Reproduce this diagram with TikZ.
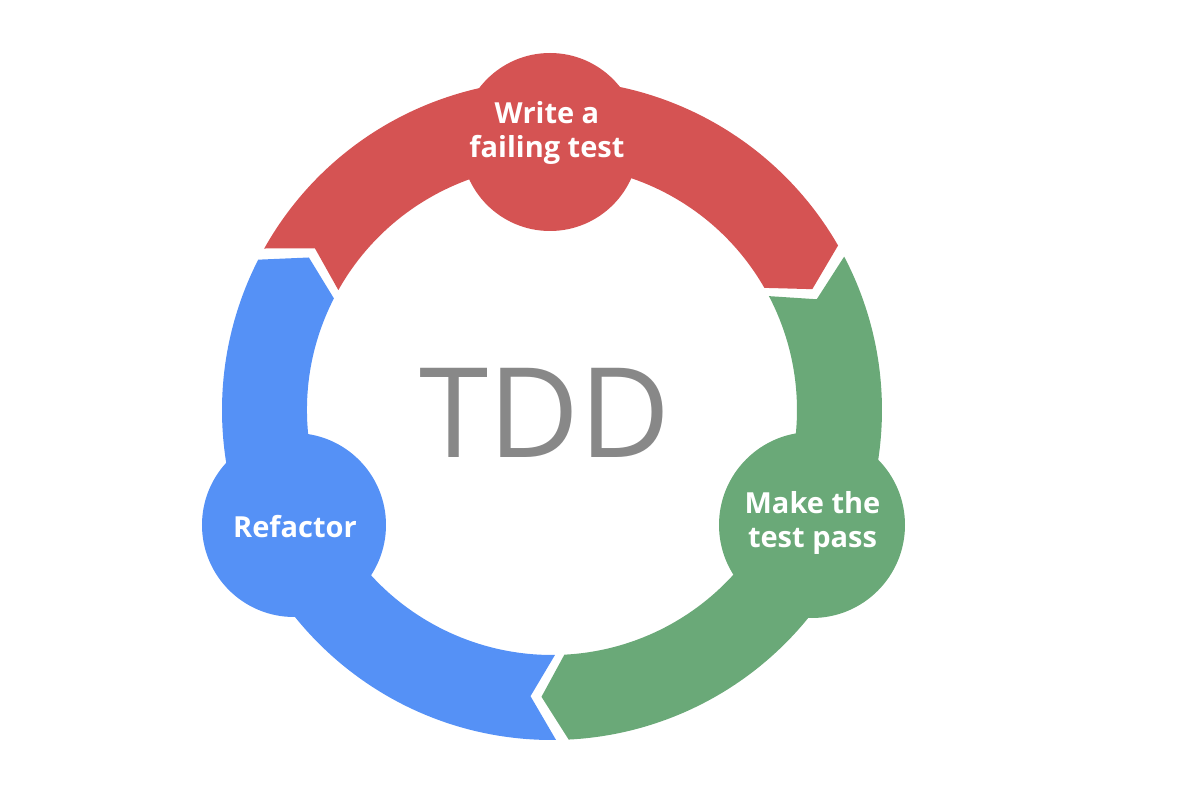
\documentclass[tikz,border=0pt]{standalone}
\usepackage{fontspec}
\setmainfont{Open Sans}
\definecolor{tddred}{RGB}{213,83,83}
\definecolor{tddgreen}{RGB}{106,169,120}
\definecolor{tddblue}{RGB}{85,145,246}
\definecolor{tddgrey}{RGB}{136,136,136}
\newcommand\tddRo{330}
\newcommand\tddRi{245}
\newcommand\tddRm{287}
\newcommand\tddGap{1.1}
\newcommand\tddDep{5}
% #1 colour, #2 start angle (larger), #3 end angle (smaller), clockwise segment with arrow tip at end
\newcommand\tddseg[3]{%
  \fill[#1] ({#2-\tddGap}:\tddRo)
    arc[start angle={#2-\tddGap}, end angle={#3+\tddGap}, radius=\tddRo]
    -- ({#3+\tddGap-\tddDep}:\tddRm)
    -- ({#3+\tddGap}:\tddRi)
    arc[start angle={#3+\tddGap}, end angle={#2-\tddGap}, radius=\tddRi]
    -- ({#2-\tddGap-\tddDep}:\tddRm) -- cycle;}
\begin{document}
\begin{tikzpicture}[x=1pt,y=1pt,
  stage/.style={circle, inner sep=0pt, minimum size=#1},
  label/.style={text=white, align=center, inner sep=0pt,
    font=\fontsize{29}{34}\selectfont\bfseries}]
\useasboundingbox (-552,-385) rectangle (648,410);
\tddseg{tddred}{151.8}{28.8}
\tddseg{tddgreen}{28.8}{-88.2}
\tddseg{tddblue}{-88.2}{-208.2}
\node[stage=178pt, fill=tddred] (write) at (-2,268) {};
\node[stage=184pt, fill=tddblue] (refactor) at (-258,-115) {};
\node[stage=186pt, fill=tddgreen] (pass) at (260,-115) {};
\node[label] (writetxt) at (-5,277.5) {Write a\\failing test};
\node[label] (refactortxt) at (-257,-117) {Refactor};
\node[label] (passtxt) at (260.5,-112.5) {Make the\\test pass};
\node[text=tddgrey, inner sep=0pt, font=\fontsize{125}{125}\selectfont] (tdd) at (-7,-2.5) {TDD};
\end{tikzpicture}
\end{document}
